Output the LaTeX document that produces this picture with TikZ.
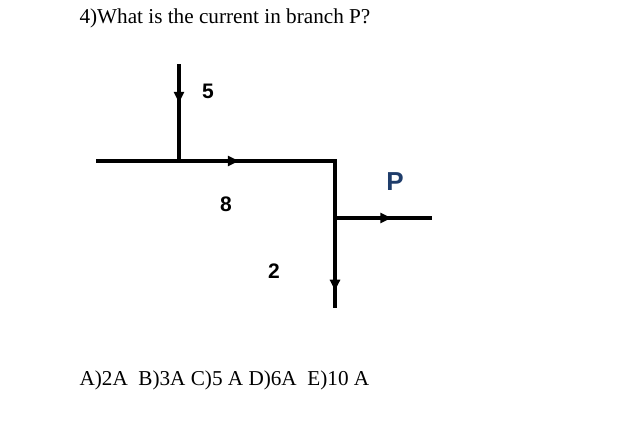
\documentclass[tikz,border=0pt]{standalone}
\usepackage{fontspec}
\setmainfont{Liberation Serif}
\newfontfamily\lab{Liberation Sans}
\usetikzlibrary{decorations.markings,arrows.meta}
\definecolor{pblue}{HTML}{1F3D6B}
\begin{document}
\begin{tikzpicture}[x=1pt,y=-1pt,>={Triangle[length=11pt,width=10pt]},
  wire/.style={line width=3.2pt},
  arrowat/.style={postaction={decorate},decoration={markings,mark=at position #1 with {\arrow{>}}}},
  lbl/.style={font=\lab\bfseries\fontsize{21}{24}\selectfont},
  txt/.style={font=\fontsize{21.2}{25}\selectfont,anchor=west}]
\useasboundingbox (0,0) rectangle (634,439);
\node[txt] (q) at (76,18) {4)What is the current in branch P?};
\coordinate (L) at (96,161);
\coordinate (T) at (179,64);
\coordinate (J1) at (179,161);
\coordinate (C) at (335,161);
\coordinate (J2) at (335,218);
\coordinate (B) at (335,308);
\coordinate (R) at (432,218);
\draw[wire,postaction={decorate},decoration={markings,
  mark=at position 0.37 with {\arrow{>}},
  mark=at position 0.955 with {\arrow{>}}}] (L) -- (C) -- (B);
\draw[wire,arrowat=0.4] (T) -- (J1);
\draw[wire,arrowat=0.58] (J2) -- (R);
\node[lbl] (n5) at (208,91) {5};
\node[lbl] (n8) at (226,204) {8};
\node[lbl] (n2) at (274,271) {2};
\node[lbl,text=pblue,font=\lab\bfseries\fontsize{26}{28}\selectfont] (P) at (395,182) {P};
\node[txt] (a) at (76,380) {A)2A\ \ B)3A C)5 A D)6A\ \ E)10 A};
\end{tikzpicture}
\end{document}
